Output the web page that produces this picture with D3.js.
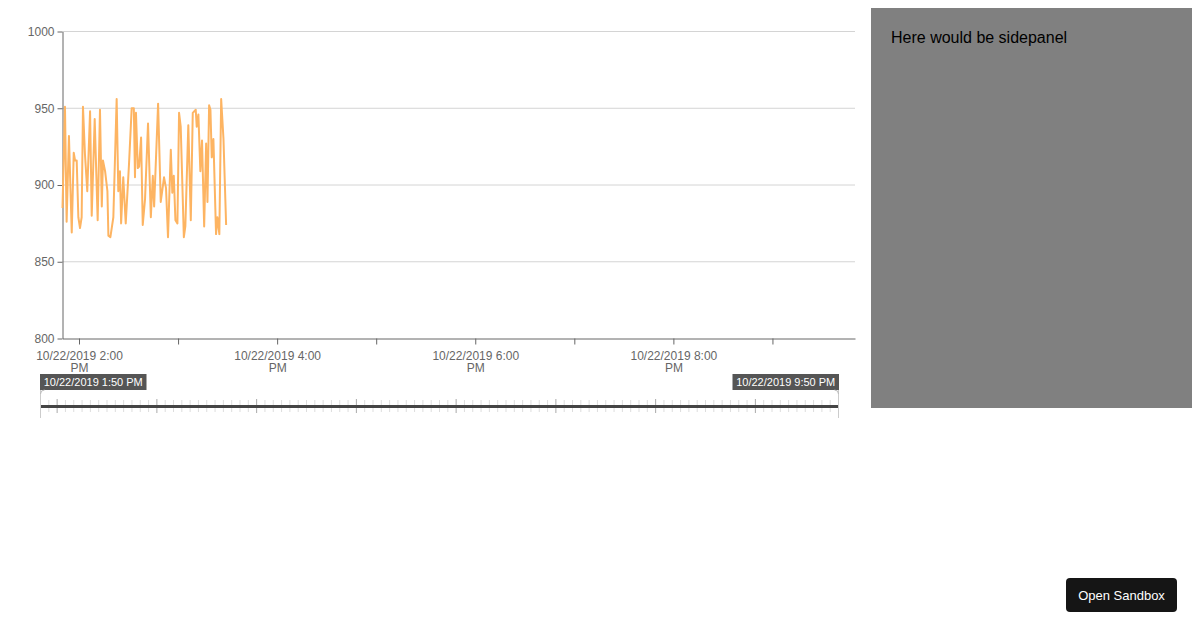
<!DOCTYPE html>
<html>
<head>
<meta charset="utf-8">
<script src="https://cdnjs.cloudflare.com/ajax/libs/d3/7.8.5/d3.min.js"></script>
<style>
  body { margin: 0; background: #fff; font-family: "Liberation Sans", Arial, sans-serif; }
  svg { display: block; }
</style>
</head>
<body>
<div id="chart"></div>
<script>
// readings: minutes after 10/22/2019 1:50 PM, and value
var minutes = [0, 1.5, 2.5, 3.9, 5.6, 6.8, 7.6, 8.6, 9.6, 10.6, 11.6, 12.4, 13.6, 15.0, 16.7,
  17.7, 19.5, 21.3, 22.7, 23.8, 24.5, 25.8, 27.2, 27.8, 29.0, 30.8, 32.8, 33.8, 34.8, 35.5,
  36.8, 38.3, 40.3, 41.9, 43.2, 43.9, 44.5, 45.6, 46.4, 47.6, 48.6, 50.0, 51.8, 53.5, 54.7,
  55.5, 57.9, 59.5, 61.5, 62.7, 63.9, 65.6, 66.5, 67.4, 68.4, 69.6, 70.6, 71.6, 73.5, 74.4,
  76.2, 77.7, 78.9, 80.7, 81.3, 82.3, 83.5, 84.5, 85.8, 87.0, 87.8, 88.8, 89.6, 90.4, 91.4,
  93.0, 93.8, 95.0, 96.1, 97.5, 99.1];
var values = [885, 951, 876, 932, 869, 921, 916, 916, 879, 872, 879, 951, 920, 896, 948,
  880, 943, 877, 949, 886, 916, 909, 896, 867, 866, 879, 956, 896, 909, 875,
  905, 875, 914, 950, 950, 905, 947, 911, 912, 931, 874, 891, 940, 879, 906,
  886, 953, 889, 905, 898, 866, 923, 895, 906, 877, 875, 947, 938, 866, 873,
  939, 877, 947, 949, 938, 946, 909, 929, 873, 927, 889, 952, 949, 918, 930,
  868, 879, 868, 956, 930, 874];
var yTicks = [800, 850, 900, 950, 1000];

var start = new Date(2019, 9, 22, 13, 50);
var end = new Date(2019, 9, 22, 21, 50);

var data = minutes.map(function (m, i) {
    return { t: new Date(start.getTime() + m * 60000), v: values[i] };
});

var svg = d3.select("#chart").append("svg")
    .attr("width", 1200)
    .attr("height", 630);

// main chart
var x = d3.scaleTime().domain([start, end]).range([62.5, 855]);
var y = d3.scaleLinear().domain([800, 1000]).range([338.5, 31.5]);

// grid
svg.append("g").selectAll("line")
    .data(yTicks.slice(1))
    .enter().append("line")
    .attr("x1", 62.5).attr("x2", 855)
    .attr("y1", function (d) { return y(d); })
    .attr("y2", function (d) { return y(d); })
    .style("stroke", "#d4d4d4");

// y axis
var yAxis = svg.append("g")
    .attr("transform", "translate(62.5,0)")
    .call(d3.axisLeft(y).tickValues(yTicks).tickFormat(d3.format("d")).tickSize(5).tickSizeOuter(0));
yAxis.select(".domain").style("stroke", "#666");
yAxis.selectAll(".tick line").style("stroke", "#666");
yAxis.selectAll(".tick text")
    .style("fill", "#666")
    .style("font-size", "12px")
    .style("font-family", "Liberation Sans, Arial, sans-serif");

// x axis
var fmt = d3.timeFormat("%m/%d/%Y %-I:%M %p");
var xAxis = svg.append("g")
    .attr("transform", "translate(0,338.5)")
    .call(d3.axisBottom(x).ticks(d3.timeHour.every(1)).tickSize(6).tickSizeOuter(0).tickFormat(""));
xAxis.select(".domain").style("stroke", "#666");
xAxis.selectAll(".tick line").style("stroke", "#666");
xAxis.selectAll(".tick").each(function (d) {
    if (d.getHours() % 2 !== 0) return;
    var s = fmt(d);
    var cut = s.lastIndexOf(" ");
    var t = d3.select(this).append("text")
        .attr("text-anchor", "middle")
        .style("fill", "#666")
        .style("font-size", "12px")
        .style("font-family", "Liberation Sans, Arial, sans-serif");
    t.append("tspan").attr("x", 0).attr("y", 21).text(s.slice(0, cut));
    t.append("tspan").attr("x", 0).attr("y", 33).text(s.slice(cut + 1));
});

// the line
var line = d3.line()
    .x(function (d) { return x(d.t); })
    .y(function (d) { return y(d.v); });

svg.append("path")
    .datum(data)
    .attr("d", line)
    .style("fill", "none")
    .style("stroke", "#fdb462")
    .style("stroke-width", 2)
    .style("stroke-linejoin", "round");

// range slider
var sx = d3.scaleTime().domain([start, end]).range([40.5, 838.5]);
var trackY = 406.5;

svg.append("g").selectAll("line")
    .data(sx.ticks(d3.timeMinute.every(5)))
    .enter().append("line")
    .attr("x1", function (d) { return sx(d); })
    .attr("x2", function (d) { return sx(d); })
    .attr("y1", function (d) { return d.getMinutes() === 0 ? 399 : 400; })
    .attr("y2", function (d) { return d.getMinutes() === 0 ? 413 : 412; })
    .style("stroke", function (d) { return d.getMinutes() === 0 ? "#aaa" : "#ddd"; });

svg.append("line")
    .attr("x1", sx(start)).attr("x2", sx(end))
    .attr("y1", trackY).attr("y2", trackY)
    .style("stroke", "#444")
    .style("stroke-width", 3);

var handles = [start, end];
svg.append("g").selectAll("line")
    .data(handles)
    .enter().append("line")
    .attr("x1", function (d) { return sx(d); })
    .attr("x2", function (d) { return sx(d); })
    .attr("y1", 390)
    .attr("y2", 418)
    .style("stroke", "#ccc");

var labelFmt = d3.timeFormat("%m/%d/%Y %-I:%M %p");
handles.forEach(function (d, i) {
    var hx = sx(d);
    var w = 106.5;
    var bx = i === 0 ? hx - 0.5 : hx + 0.5 - w;
    svg.append("rect")
        .attr("x", bx).attr("y", 374)
        .attr("width", w).attr("height", 16)
        .style("fill", "#555");
    svg.append("text")
        .attr("x", bx + w / 2).attr("y", 386)
        .attr("text-anchor", "middle")
        .style("fill", "#fff")
        .style("font-size", "11px")
        .style("font-family", "Liberation Sans, Arial, sans-serif")
        .text(labelFmt(d));
    // small rounded corner of the handle
    var dir = i === 0 ? 1 : -1;
    svg.append("path")
        .attr("d", "M" + hx + ",394 Q" + hx + ",390 " + (hx + dir * 4) + ",390")
        .style("fill", "none")
        .style("stroke", "#bbb");
});

// side panel
svg.append("rect")
    .attr("x", 871).attr("y", 8)
    .attr("width", 321).attr("height", 400)
    .style("fill", "#808080");
svg.append("text")
    .attr("x", 891).attr("y", 43)
    .style("fill", "#000")
    .style("font-size", "16px")
    .style("font-family", "Liberation Sans, Arial, sans-serif")
    .text("Here would be sidepanel");

// sandbox button
svg.append("rect")
    .attr("x", 1066).attr("y", 578)
    .attr("width", 111).attr("height", 34)
    .attr("rx", 4)
    .style("fill", "#151515");
svg.append("text")
    .attr("x", 1121.5).attr("y", 599.5)
    .attr("text-anchor", "middle")
    .style("fill", "#fff")
    .style("font-size", "13px")
    .style("font-family", "Liberation Sans, Arial, sans-serif")
    .text("Open Sandbox");
</script>
</body>
</html>
